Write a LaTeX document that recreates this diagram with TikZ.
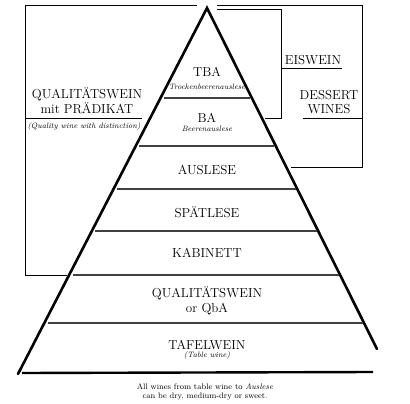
\documentclass[tikz,border=0pt]{standalone}
\usepackage{fontspec}
\begin{document}
\begin{tikzpicture}[x=1pt, y=-1pt,
		tier/.style = {font=\fontsize{13}{14.5}\selectfont, align=center, inner sep=0pt},
		sub/.style = {font=\fontsize{7.8}{9}\selectfont\itshape, inner sep=0pt},
		edge/.style = {line width=2.6pt, line cap=round},
		layer/.style = {line width=1.6pt, black!75},
		frame/.style = {line width=0.8pt}]
	\useasboundingbox (0,0) rectangle (410,404);
	\def\lx(#1){207-0.514*(#1-8)} \def\rx(#1){207+0.5*(#1-8)}
	% pyramid
	\coordinate (apex) at (207,8);
	\coordinate (bl) at (18,374);
	\coordinate (br) at (377,349);
	\draw[edge] (bl) -- (apex) -- (br);
	\foreach \h in {98, 146, 189, 231, 275, 323}
		\draw[layer] ({\lx(\h)+3}, \h) -- ({\rx(\h)-2}, \h);
	\draw[line width=2.4pt] (22,373) -- (373,372);
	% tiers
	\node[tier] (tba) at (207,72) {TBA};
	\node[sub] (tbasub) at (207,87) {Trockenbeerenauslese};
	\node[tier] (ba) at (207,118) {BA};
	\node[sub] (basub) at (207,129) {Beerenauslese};
	\node[tier] (auslese) at (207,170) {AUSLESE};
	\node[tier] (spaetlese) at (207,212) {SPÄTLESE};
	\node[tier] (kabinett) at (207,253) {KABINETT};
	\node[tier] (qba) at (207,301) {QUALITÄTSWEIN\\or QbA};
	\node[tier] (tafel) at (207,345) {TAFELWEIN};
	\node[sub] (tafelsub) at (207,356) {(Table wine)};
	\node[font=\fontsize{8}{9.5}\selectfont, align=center] (note) at (205,392)
		{All wines from table wine to \textit{Auslese}\\can be dry, medium-dry or sweet.};
	% brackets
	\draw[frame] (197,5) -- (25,5) -- (25,275) -- (67,275);
	\draw[frame] (25,118) -- (142,118);
	\node[tier] (qmp) at (87,101) {QUALITÄTSWEIN\\mit PRÄDIKAT};
	\node[sub] (qmpsub) at (84,127) {(Quality wine with distinction)};
	\draw[frame] (217,9) -- (281,9) -- (281,118) -- (265,118);
	\draw[frame] (281,68) -- (342,68);
	\node[tier] (eis) at (313,60) {EISWEIN};
	\draw[frame] (217,5) -- (362,5) -- (362,167) -- (291,167);
	\draw[frame] (303,118) -- (363,118);
	\node[tier] (dessert) at (329,102) {DESSERT\\WINES};
\end{tikzpicture}
\end{document}
